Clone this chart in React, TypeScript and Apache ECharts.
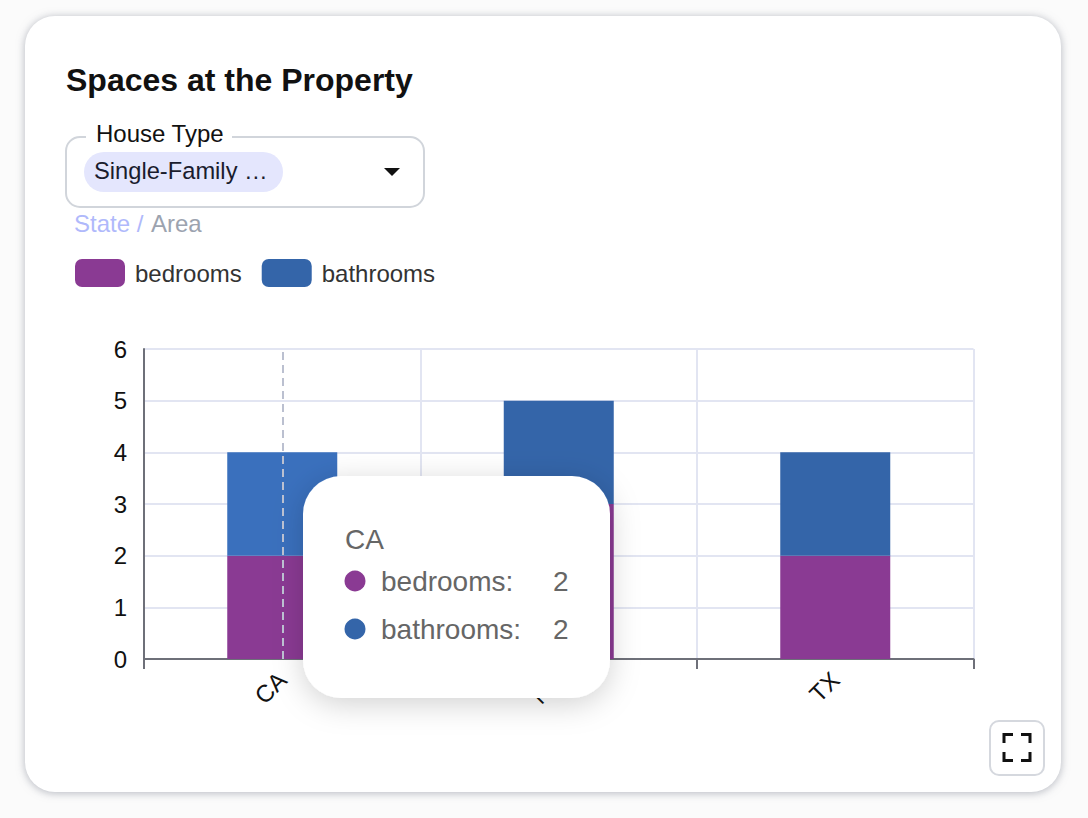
import React, { useEffect, useRef } from "react";
import * as echarts from "echarts";

const categories = ["CA", "NY", "TX"];
const bedrooms = [2, 3, 2];
const bathrooms = [2, 2, 2];
const yMax = 6;
const activeIndex = 0;
const FONT = '"Liberation Sans", Arial, sans-serif';
const PURPLE = "#8a3a93";
const BLUE = "#3465a9";
const BLUE_HOVER = "#3a70bd";

const box = (x: number, y: number, w: number, h: number, r: number, fill: string, stroke?: string, extra: any = {}) => ({
  type: "rect",
  shape: { x, y, width: w, height: h, r },
  style: { fill, stroke: stroke ?? "transparent", lineWidth: stroke ? 2 : 0, ...extra },
  silent: true,
});
const label = (text: string, x: number, y: number, size: number, fill: string, fontWeight = "normal", textAlign = "left") => ({
  type: "text",
  x,
  y,
  style: { text, fill, font: `${fontWeight} ${size}px ${FONT}`, textAlign, textVerticalAlign: "middle" },
  silent: true,
});
const bracket = (points: number[][]) => ({
  type: "polyline",
  shape: { points },
  style: { stroke: "#111", lineWidth: 3, fill: "none" },
  silent: true,
});

export default function App() {
  const ref = useRef<HTMLDivElement>(null);
  useEffect(() => {
    document.body.style.margin = "0";
    document.body.style.background = "#fbfbfb";
    const chart = echarts.init(ref.current!, null, { renderer: "svg" });
    const i = activeIndex;
    const z = 50;
    chart.setOption({
      animation: false,
      grid: { left: 144, right: 114.5, top: 349, bottom: 159 },
      legend: {
        left: 70,
        top: 254,
        itemWidth: 50,
        itemHeight: 28,
        itemGap: 20,
        icon: "roundRect",
        textStyle: { fontFamily: FONT, fontSize: 24, color: "#333", padding: [0, 0, 0, 5] },
        data: [
          { name: "bedrooms", itemStyle: { color: PURPLE } },
          { name: "bathrooms", itemStyle: { color: BLUE } },
        ],
        selectedMode: false,
      },
      xAxis: {
        type: "category",
        data: categories,
        axisLine: { lineStyle: { color: "#6e7079", width: 2 } },
        axisTick: { show: true, length: 10, lineStyle: { color: "#6e7079", width: 2 } },
        axisLabel: { rotate: 45, fontFamily: FONT, fontSize: 24, color: "#111", margin: 17 },
        splitLine: { show: true, lineStyle: { color: "#e2e5f2", width: 2 } },
        axisPointer: {
          show: true,
          status: "show",
          value: categories[i],
          type: "line",
          lineStyle: { color: "#bbc0d0", type: [8, 5], width: 2 },
          label: { show: false },
        },
      },
      yAxis: {
        type: "value",
        min: 0,
        max: yMax,
        interval: 1,
        axisLine: { show: true, lineStyle: { color: "#6e7079", width: 2 } },
        axisTick: { show: false },
        axisLabel: { fontFamily: FONT, fontSize: 24, color: "#111", margin: 17, padding: [0, 0, 2, 0] },
        splitLine: { show: true, lineStyle: { color: "#e2e5f2", width: 2 } },
      },
      series: [
        {
          name: "bedrooms",
          type: "bar",
          stack: "spaces",
          barWidth: 110,
          data: bedrooms,
          itemStyle: { color: PURPLE },
        },
        {
          name: "bathrooms",
          type: "bar",
          stack: "spaces",
          barWidth: 110,
          data: bathrooms,
          itemStyle: { color: (p: any) => (p.dataIndex === i ? BLUE_HOVER : BLUE) },
        },
      ],
      graphic: [
        label("Spaces at the Property", 66, 80, 32, "#111", "bold"),
        box(66, 137, 358, 70, 14, "#fff", "#d1d5db"),
        box(86, 130, 146, 12, 0, "#fff"),
        label("House Type", 96, 133, 24, "#111"),
        box(84, 152, 199, 40, 20, "#e4e6fd"),
        label("Single-Family …", 94, 171, 23.7, "#1a1c2e"),
        { type: "polygon", shape: { points: [[384, 168], [400, 168], [392, 176]] }, style: { fill: "#111" }, silent: true },
        label("State /", 74, 223, 24, "#b0b9fb"),
        label("Area", 151, 223, 24, "#9ca3af"),
        box(990, 721, 54, 54, 9, "#fff", "#d5d8de"),
        bracket([[1004, 743], [1004, 734.5], [1013, 734.5]]),
        bracket([[1021, 734.5], [1030, 734.5], [1030, 743]]),
        bracket([[1004, 752], [1004, 760.5], [1013, 760.5]]),
        bracket([[1021, 760.5], [1030, 760.5], [1030, 752]]),
        {
          type: "rect",
          shape: { x: 303, y: 476, width: 307, height: 222, r: 38 },
          style: { fill: "#fff", shadowBlur: 30, shadowColor: "rgba(0,0,0,0.18)", shadowOffsetY: 6 },
          silent: true,
          z,
        },
        { ...label(categories[i], 345, 539, 28, "#666"), z },
        { type: "circle", shape: { cx: 355, cy: 581, r: 10.5 }, style: { fill: PURPLE }, silent: true, z },
        { ...label("bedrooms:", 381, 581, 28, "#666"), z },
        { ...label(String(bedrooms[i]), 553, 581, 28, "#666"), z },
        { type: "circle", shape: { cx: 355, cy: 629, r: 10.5 }, style: { fill: BLUE }, silent: true, z },
        { ...label("bathrooms:", 381, 629, 28, "#666"), z },
        { ...label(String(bathrooms[i]), 553, 629, 28, "#666"), z },
      ],
    });
    return () => chart.dispose();
  }, []);
  return (
    <div style={{ position: "absolute", left: 0, top: 0, width: 1088, height: 818, background: "#fbfbfb", overflow: "hidden" }}>
      <div
        style={{
          position: "absolute",
          left: 25,
          top: 16,
          width: 1036,
          height: 776,
          background: "#fff",
          borderRadius: 30,
          boxShadow: "0 1px 8px rgba(120,125,140,0.55)",
        }}
      />
      <div ref={ref} style={{ position: "absolute", left: 0, top: 0, width: 1088, height: 818 }} />
    </div>
  );
}
